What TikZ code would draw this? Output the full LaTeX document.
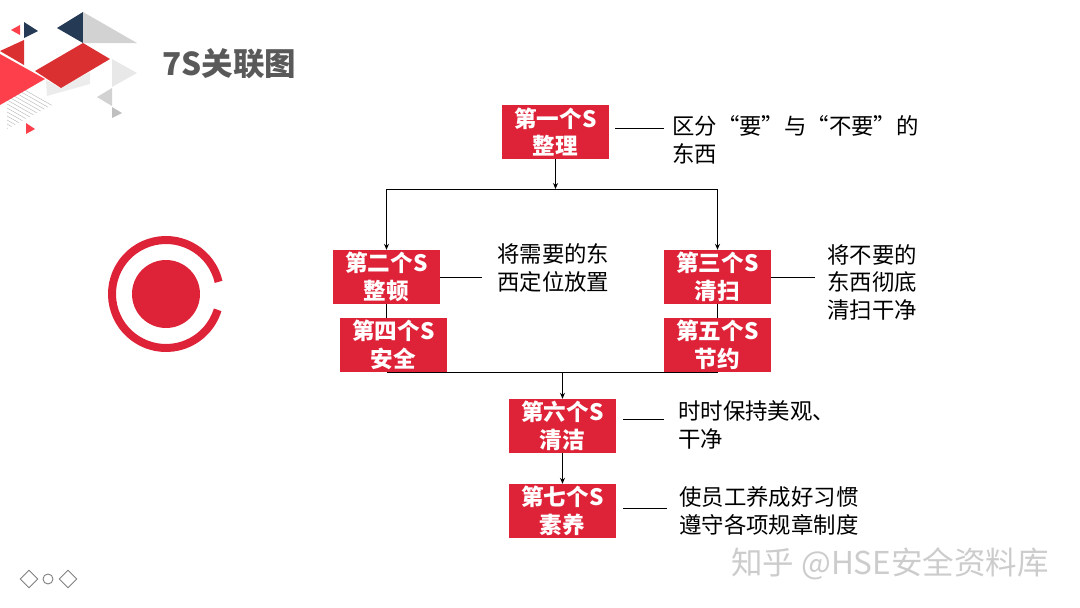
\documentclass[tikz,border=0pt]{standalone}
\usepackage{fontspec}
\setmainfont{Noto Sans CJK SC}
\usetikzlibrary{arrows.meta,calc,shapes.geometric}
\definecolor{rosso}{HTML}{DE2339}
\definecolor{navy}{HTML}{243A55}
\definecolor{titlegray}{HTML}{595959}
\definecolor{bandred}{HTML}{DB3032}
\definecolor{brightred}{HTML}{FD3F4B}
\begin{document}
\begin{tikzpicture}[x=1pt,y=-1pt,
			sbox/.style = {fill=rosso, text=white, minimum width=107pt, minimum height=54pt,
				inner sep=0pt, align=center, font=\fontsize{22.6}{27.5}\selectfont\bfseries},
			note/.style = {anchor=west, inner sep=0pt, align=left, text=black,
				font=\fontsize{22.4}{27.5}\selectfont},
			line/.style = {draw, line width=0.9pt},
			La/.style = {line, -{Stealth[length=6pt,width=5pt]}},
			footmark/.style = {draw=gray, line width=0.9pt, inner sep=0pt},
			]
		\useasboundingbox (0,0) rectangle (1080,608);
		
		% corner artwork
		\fill[navy] (83,12) -- (57,28) -- (83,43) -- cycle;
		\fill[gray!35] (83,12) -- (137,43) -- (83,43) -- cycle;
		\fill[navy] (24,22) -- (38,31) -- (24,38) -- cycle;
		\fill[brightred] (11,30) -- (20,25) -- (20,35) -- cycle;
		\fill[bandred] (0,51) -- (24,40) -- (24,65) -- cycle;
		\fill[gray!15] (46,80) -- (60,88) -- (90,72) -- (90,84) -- (47,96) -- cycle;
		\fill[bandred] (83,43) -- (110,59) -- (61,88) -- (35,71) -- cycle;
		\fill[gray!18] (112,59) -- (137,73) -- (112,87) -- cycle;
		\fill[gray!35] (112,88) -- (97,97) -- (112,106) -- cycle;
		\fill[gray!50] (112,107) -- (122,113) -- (112,118) -- cycle;
		\fill[brightred] (26,123) -- (35,129) -- (26,134) -- cycle;
		\begin{scope}
			\clip (7,79) -- (52,105) -- (7,129) -- cycle;
			\foreach \i in {60,64,...,130} % hatch lines
			\draw[gray!50, line width=0.5pt] (0,\i) -- ++(60,34);
		\end{scope}
		\fill[brightred] (0,54) -- (45,79) -- (0,105) -- cycle;
		
		\node[anchor=west, inner sep=0pt, text=titlegray,
			font=\fontsize{31.5}{31.5}\selectfont\bfseries] (title) at (162,64) {7S关联图};
		
		% target mark
		\node[circle, fill=rosso, minimum size=68pt, inner sep=0pt] (disc) at (166,294) {};
		\draw[rosso, line width=8pt] (disc) ++(13:54pt) arc[start angle=13, end angle=343, radius=54pt];
		
		% the seven boxes
		\node[sbox] (first) at (555.5,132) {第一个S\\整理};
		\node[sbox] (second) at (386.5,277) {第二个S\\整顿};
		\node[sbox] (third) at (717.5,277) {第三个S\\清扫};
		\node[sbox] (fourth) at (393.5,345) {第四个S\\安全};
		\node[sbox] (fifth) at (717.5,345) {第五个S\\节约};
		\node[sbox] (sixth) at (562.5,426) {第六个S\\清洁};
		\node[sbox] (seventh) at (562.5,511) {第七个S\\素养};
		
		% notes beside them
		\node[note] (nfirst) at (672,140) {区分“要”与“不要”的\\东西};
		\node[note] (nsecond) at (497,268) {将需要的东\\西定位放置};
		\node[note] (nthird) at (827,282) {将不要的\\东西彻底\\清扫干净};
		\node[note] (nsixth) at (678,425) {时时保持美观、\\干净};
		\node[note] (nseventh) at (679,511) {使员工养成好习惯\\遵守各项规章制度};
		
		\coordinate (fork) at (555.5,189);
		\coordinate (joinL) at (386.5,372);
		\coordinate (joinR) at (717.5,372);
		\coordinate (joinM) at (562.5,372);
		
		\draw[La] (first) -- (fork);
		\draw[La] (fork) -| (second);
		\draw[La] (fork) -| (third);
		\draw[line] (second.south) -- (second.south|-fourth.north);
		\draw[line] (third) -- (fifth);
		\draw[line] (joinL) -- (joinR);
		\draw[La] (joinM) -- (sixth);
		\draw[La] (sixth) -- (seventh);
		
		% dashes to the notes
		\coordinate (a1) at (615,128);
		\coordinate (b1) at (664,128);
		\coordinate (b2) at (482,277);
		\coordinate (b3) at (815,277);
		\coordinate (a6) at (623,419);
		\coordinate (b6) at (664,419);
		\coordinate (a7) at (623,508);
		\coordinate (b7) at (667,508);
		\draw[line] (a1) -- (b1);
		\draw[line] (second) -- (b2);
		\draw[line] (third) -- (b3);
		\draw[line] (a6) -- (b6);
		\draw[line] (a7) -- (b7);
		
		% footer marks
		\node[footmark, diamond, minimum size=18pt] (dleft) at (29,579) {};
		\node[footmark, circle, minimum size=10pt] (dmid) at (48,579) {};
		\node[footmark, diamond, minimum size=18pt] (dright) at (68,579) {};
		
		\node[anchor=west, inner sep=0pt, text=gray!40, font=\fontsize{31.5}{31.5}\selectfont] (wmark) at (731,564) {知乎 @HSE安全资料库};
		
\end{tikzpicture}
\end{document}
